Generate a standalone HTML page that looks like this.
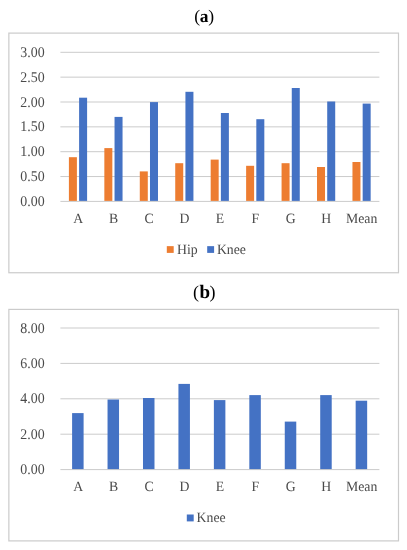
<!DOCTYPE html>
<html><head><meta charset="utf-8"><title>Figure</title>
<style>html,body{margin:0;padding:0;background:#fff}svg{display:block}text{font-family:"Liberation Serif",serif;fill:#4a4a4a;text-rendering:geometricPrecision}</style></head>
<body><svg width="407" height="550" viewBox="0 0 407 550">
<rect width="407" height="550" fill="#fff"/>
<rect x="8.85" y="33.10" width="389.65" height="239.65" fill="#fff" stroke="#CBCBCB" stroke-width="1.2"/>
<line x1="60.40" y1="201.40" x2="379.40" y2="201.40" stroke="#CBCBCB" stroke-width="1"/>
<text transform="translate(44.70,205.90) scale(0.94,1)" text-anchor="end" font-size="14.8" >0.00</text>
<line x1="60.40" y1="176.55" x2="379.40" y2="176.55" stroke="#CBCBCB" stroke-width="1"/>
<text transform="translate(44.70,181.05) scale(0.94,1)" text-anchor="end" font-size="14.8" >0.50</text>
<line x1="60.40" y1="151.70" x2="379.40" y2="151.70" stroke="#CBCBCB" stroke-width="1"/>
<text transform="translate(44.70,156.20) scale(0.94,1)" text-anchor="end" font-size="14.8" >1.00</text>
<line x1="60.40" y1="126.85" x2="379.40" y2="126.85" stroke="#CBCBCB" stroke-width="1"/>
<text transform="translate(44.70,131.35) scale(0.94,1)" text-anchor="end" font-size="14.8" >1.50</text>
<line x1="60.40" y1="102.00" x2="379.40" y2="102.00" stroke="#CBCBCB" stroke-width="1"/>
<text transform="translate(44.70,106.50) scale(0.94,1)" text-anchor="end" font-size="14.8" >2.00</text>
<line x1="60.40" y1="77.15" x2="379.40" y2="77.15" stroke="#CBCBCB" stroke-width="1"/>
<text transform="translate(44.70,81.65) scale(0.94,1)" text-anchor="end" font-size="14.8" >2.50</text>
<line x1="60.40" y1="52.30" x2="379.40" y2="52.30" stroke="#CBCBCB" stroke-width="1"/>
<text transform="translate(44.70,56.80) scale(0.94,1)" text-anchor="end" font-size="14.8" >3.00</text>
<rect x="68.90" y="157.20" width="8.00" height="43.70" fill="#ED7D31"/>
<rect x="79.10" y="97.70" width="8.00" height="103.20" fill="#4472C4"/>
<text transform="translate(78.12,222.60) scale(0.97,1)" text-anchor="middle" font-size="14.2" >A</text>
<rect x="104.34" y="148.10" width="8.00" height="52.80" fill="#ED7D31"/>
<rect x="114.54" y="116.90" width="8.00" height="84.00" fill="#4472C4"/>
<text transform="translate(113.57,222.60) scale(0.97,1)" text-anchor="middle" font-size="14.2" >B</text>
<rect x="139.79" y="171.40" width="8.00" height="29.50" fill="#ED7D31"/>
<rect x="149.99" y="102.10" width="8.00" height="98.80" fill="#4472C4"/>
<text transform="translate(149.01,222.60) scale(0.97,1)" text-anchor="middle" font-size="14.2" >C</text>
<rect x="175.23" y="163.20" width="8.00" height="37.70" fill="#ED7D31"/>
<rect x="185.43" y="91.80" width="8.00" height="109.10" fill="#4472C4"/>
<text transform="translate(184.46,222.60) scale(0.97,1)" text-anchor="middle" font-size="14.2" >D</text>
<rect x="210.68" y="159.60" width="8.00" height="41.30" fill="#ED7D31"/>
<rect x="220.88" y="113.00" width="8.00" height="87.90" fill="#4472C4"/>
<text transform="translate(219.90,222.60) scale(0.97,1)" text-anchor="middle" font-size="14.2" >E</text>
<rect x="246.12" y="165.80" width="8.00" height="35.10" fill="#ED7D31"/>
<rect x="256.32" y="119.20" width="8.00" height="81.70" fill="#4472C4"/>
<text transform="translate(255.34,222.60) scale(0.97,1)" text-anchor="middle" font-size="14.2" >F</text>
<rect x="281.57" y="163.20" width="8.00" height="37.70" fill="#ED7D31"/>
<rect x="291.77" y="88.00" width="8.00" height="112.90" fill="#4472C4"/>
<text transform="translate(290.79,222.60) scale(0.97,1)" text-anchor="middle" font-size="14.2" >G</text>
<rect x="317.01" y="167.00" width="8.00" height="33.90" fill="#ED7D31"/>
<rect x="327.21" y="101.50" width="8.00" height="99.40" fill="#4472C4"/>
<text transform="translate(326.23,222.60) scale(0.97,1)" text-anchor="middle" font-size="14.2" >H</text>
<rect x="352.46" y="162.00" width="8.00" height="38.90" fill="#ED7D31"/>
<rect x="362.66" y="103.60" width="8.00" height="97.30" fill="#4472C4"/>
<text transform="translate(361.68,222.60) scale(0.97,1)" text-anchor="middle" font-size="14.2" >Mean</text>
<rect x="166.80" y="246.15" width="6.90" height="6.75" fill="#ED7D31"/>
<text transform="translate(177.00,253.80) scale(0.97,1)" text-anchor="start" font-size="14.2" >Hip</text>
<rect x="207.20" y="246.15" width="6.90" height="6.75" fill="#4472C4"/>
<text transform="translate(216.90,253.80) scale(0.97,1)" text-anchor="start" font-size="14.2" >Knee</text>
<rect x="8.85" y="309.40" width="389.65" height="231.50" fill="#fff" stroke="#CBCBCB" stroke-width="1.2"/>
<line x1="60.40" y1="469.60" x2="379.40" y2="469.60" stroke="#CBCBCB" stroke-width="1"/>
<text transform="translate(44.70,474.10) scale(0.94,1)" text-anchor="end" font-size="14.8" >0.00</text>
<line x1="60.40" y1="434.20" x2="379.40" y2="434.20" stroke="#CBCBCB" stroke-width="1"/>
<text transform="translate(44.70,438.70) scale(0.94,1)" text-anchor="end" font-size="14.8" >2.00</text>
<line x1="60.40" y1="398.80" x2="379.40" y2="398.80" stroke="#CBCBCB" stroke-width="1"/>
<text transform="translate(44.70,403.30) scale(0.94,1)" text-anchor="end" font-size="14.8" >4.00</text>
<line x1="60.40" y1="363.40" x2="379.40" y2="363.40" stroke="#CBCBCB" stroke-width="1"/>
<text transform="translate(44.70,367.90) scale(0.94,1)" text-anchor="end" font-size="14.8" >6.00</text>
<line x1="60.40" y1="328.00" x2="379.40" y2="328.00" stroke="#CBCBCB" stroke-width="1"/>
<text transform="translate(44.70,332.50) scale(0.94,1)" text-anchor="end" font-size="14.8" >8.00</text>
<rect x="72.10" y="413.10" width="11.50" height="56.00" fill="#4472C4"/>
<text transform="translate(78.12,490.70) scale(0.97,1)" text-anchor="middle" font-size="14.2" >A</text>
<rect x="107.54" y="399.50" width="11.50" height="69.60" fill="#4472C4"/>
<text transform="translate(113.57,490.70) scale(0.97,1)" text-anchor="middle" font-size="14.2" >B</text>
<rect x="142.99" y="398.00" width="11.50" height="71.10" fill="#4472C4"/>
<text transform="translate(149.01,490.70) scale(0.97,1)" text-anchor="middle" font-size="14.2" >C</text>
<rect x="178.43" y="383.90" width="11.50" height="85.20" fill="#4472C4"/>
<text transform="translate(184.46,490.70) scale(0.97,1)" text-anchor="middle" font-size="14.2" >D</text>
<rect x="213.88" y="400.10" width="11.50" height="69.00" fill="#4472C4"/>
<text transform="translate(219.90,490.70) scale(0.97,1)" text-anchor="middle" font-size="14.2" >E</text>
<rect x="249.32" y="395.10" width="11.50" height="74.00" fill="#4472C4"/>
<text transform="translate(255.34,490.70) scale(0.97,1)" text-anchor="middle" font-size="14.2" >F</text>
<rect x="284.77" y="421.60" width="11.50" height="47.50" fill="#4472C4"/>
<text transform="translate(290.79,490.70) scale(0.97,1)" text-anchor="middle" font-size="14.2" >G</text>
<rect x="320.21" y="395.10" width="11.50" height="74.00" fill="#4472C4"/>
<text transform="translate(326.23,490.70) scale(0.97,1)" text-anchor="middle" font-size="14.2" >H</text>
<rect x="355.66" y="400.70" width="11.50" height="68.40" fill="#4472C4"/>
<text transform="translate(361.68,490.70) scale(0.97,1)" text-anchor="middle" font-size="14.2" >Mean</text>
<rect x="186.80" y="514.50" width="6.90" height="6.90" fill="#4472C4"/>
<text transform="translate(196.60,522.10) scale(0.97,1)" text-anchor="start" font-size="14.2" >Knee</text>
<text y="22.00" style="fill:#000"><tspan x="194.20" font-size="17.6">(</tspan><tspan x="199.85" font-size="17.4" font-weight="bold">a</tspan><tspan x="208.30" font-size="17.6">)</tspan></text>
<text y="297.90" style="fill:#000"><tspan x="193.10" font-size="18.0">(</tspan><tspan x="199.40" font-size="19.0" font-weight="bold">b</tspan><tspan x="209.50" font-size="18.0">)</tspan></text>
</svg></body></html>
